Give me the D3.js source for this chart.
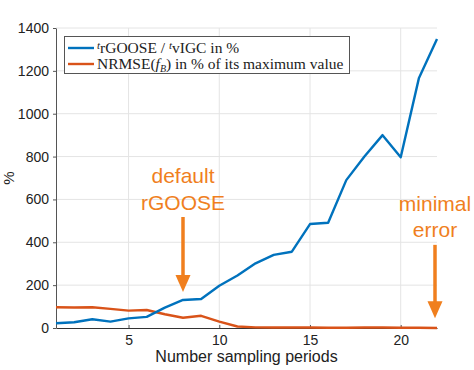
<!DOCTYPE html>
<meta charset="utf-8">
<script src="https://d3js.org/d3.v7.min.js"></script>
<style>
    body { margin: 0; background: #fff; }
    svg text { font-family: "Liberation Sans", Arial, sans-serif; }
    .tick text { font-size: 14px; fill: #222; }
    .grid line { stroke: #e4e4e4; }
    .legend text { font-family: "Liberation Serif", "DejaVu Serif", serif; font-size: 15.5px; fill: #222; }
</style>
<div id="chart"></div>
<script>
    // data
    var periods = d3.range(1, 23);
    var ratio = [22, 27, 41, 30, 45, 52, 95, 131, 135, 197, 245, 302, 341, 356, 485, 491, 690, 800, 900, 797, 1165, 1349];
    var nrmse = [97, 96, 97, 89, 81, 84, 64, 48, 57, 30, 7, 3, 2, 2, 2, 1, 1, 2, 2, 1, 1, 0];
    var xTicks = [5, 10, 15, 20];
    var yTicks = [0, 200, 400, 600, 800, 1000, 1200, 1400];

    // annotations in data units: text lines, text baselines, arrow start/tip
    var notes = [
        {x: 8, lines: ["default", "rGOOSE"], textY: [678, 552], from: 518, to: 168, dx: 0},
        {x: 22, lines: ["minimal", "error"], textY: [545, 425], from: 388, to: 45, dx: -2}
    ];

    var W = 474, H = 370;
    var margin = {top: 28, right: 37, bottom: 42, left: 56},
        width = W - margin.left - margin.right,
        height = H - margin.top - margin.bottom;

    var svg = d3.select("#chart").append("svg")
        .attr("width", W).attr("height", H);
    var g = svg.append("g")
        .attr("transform", "translate(" + margin.left + "," + margin.top + ")");

    var x = d3.scaleLinear().domain([1, 22]).range([0, width]);
    var y = d3.scaleLinear().domain([0, 1400]).range([height, 0]);

    // grid
    g.append("g").attr("class", "grid")
        .selectAll("line.v").data(xTicks).enter().append("line")
        .attr("x1", d => x(d)).attr("x2", d => x(d))
        .attr("y1", 0).attr("y2", height);
    g.append("g").attr("class", "grid")
        .selectAll("line.h").data(yTicks.slice(1)).enter().append("line")
        .attr("x1", 0).attr("x2", width)
        .attr("y1", d => y(d)).attr("y2", d => y(d));

    // axes
    var xAxis = g.append("g")
        .attr("transform", "translate(0," + height + ")")
        .call(d3.axisBottom(x).tickValues(xTicks).tickFormat(d3.format("d")).tickSize(-3).tickPadding(7).tickSizeOuter(0));
    var yAxis = g.append("g")
        .call(d3.axisLeft(y).tickValues(yTicks).tickFormat(d3.format("d")).tickSize(3).tickPadding(4).tickSizeOuter(0));
    xAxis.select(".domain").attr("stroke", "#333");
    yAxis.select(".domain").attr("stroke", "#555");
    g.selectAll(".tick line").attr("stroke", "#555");

    // lines
    var line = d3.line()
        .x((d, i) => x(periods[i]))
        .y(d => y(d));
    g.append("path").datum(nrmse)
        .attr("fill", "none").attr("stroke", "#D95319").attr("stroke-width", 2.4)
        .attr("stroke-linejoin", "round").attr("d", line);
    g.append("path").datum(ratio)
        .attr("fill", "none").attr("stroke", "#0072BD").attr("stroke-width", 2.4)
        .attr("stroke-linejoin", "round").attr("d", line);

    // annotations
    var orange = "#F07F1E";
    notes.forEach(function(n) {
        var cx = x(n.x) + n.dx;
        n.lines.forEach(function(t, i) {
            g.append("text")
                .attr("x", cx).attr("y", y(n.textY[i]))
                .attr("text-anchor", "middle")
                .attr("font-size", "21px")
                .attr("fill", orange)
                .text(t);
        });
        var tip = y(n.to), head = 17;
        g.append("line")
            .attr("x1", cx).attr("x2", cx)
            .attr("y1", y(n.from)).attr("y2", tip - head + 1)
            .attr("stroke", orange).attr("stroke-width", 3.5);
        g.append("path")
            .attr("d", "M" + (cx - 7.5) + "," + (tip - head) + "L" + (cx + 7.5) + "," + (tip - head) + "L" + cx + "," + tip + "Z")
            .attr("fill", orange);
    });

    // axis labels
    svg.append("text")
        .attr("x", margin.left + width / 2).attr("y", 362)
        .attr("text-anchor", "middle").attr("font-size", "16px").attr("fill", "#222")
        .text("Number sampling periods");
    svg.append("text")
        .attr("transform", "translate(14,178) rotate(-90)")
        .attr("text-anchor", "middle")
        .attr("font-family", "Liberation Serif, serif").attr("font-size", "15px").attr("fill", "#222")
        .text("%");

    // legend
    var leg = svg.append("g").attr("class", "legend");
    leg.append("rect")
        .attr("x", 64.5).attr("y", 36.5).attr("width", 285).attr("height", 37)
        .attr("fill", "#fff").attr("stroke", "#555").attr("stroke-width", 1);
    var rows = [{c: "#0072BD", y: 48}, {c: "#D95319", y: 64}];
    rows.forEach(function(r) {
        leg.append("line").attr("x1", 68).attr("x2", 94).attr("y1", r.y).attr("y2", r.y)
            .attr("stroke", r.c).attr("stroke-width", 2.4);
    });
    var t1 = leg.append("text").attr("x", 97).attr("y", 53);
    t1.append("tspan").attr("font-style", "italic").attr("font-size", "11px").attr("dy", -4).text("t");
    t1.append("tspan").attr("dy", 4).text("rGOOSE / ");
    t1.append("tspan").attr("font-style", "italic").attr("font-size", "11px").attr("dy", -4).text("t");
    t1.append("tspan").attr("dy", 4).text("vIGC in %");
    var t2 = leg.append("text").attr("x", 97).attr("y", 69);
    t2.append("tspan").text("NRMSE(");
    t2.append("tspan").attr("font-style", "italic").text("f");
    t2.append("tspan").attr("font-style", "italic").attr("font-size", "10px").attr("dy", 3).text("B");
    t2.append("tspan").attr("dy", -3).text(") in % of its maximum value");
</script>
